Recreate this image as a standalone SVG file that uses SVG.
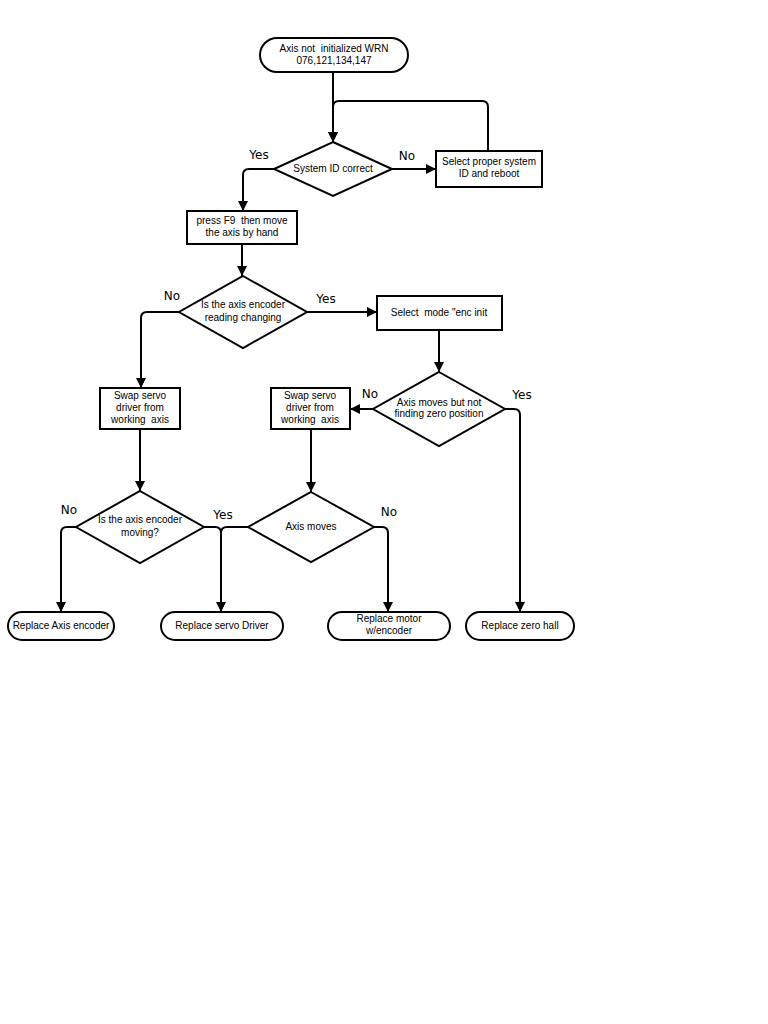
<svg xmlns="http://www.w3.org/2000/svg" width="768" height="1024" viewBox="0 0 768 1024">
<style>
.bg{fill:#fff}
.shape{fill:#fff;stroke:#000;stroke-width:2}
.t{font-family:"Liberation Sans",Arial,sans-serif;font-size:10px;fill:#000;text-anchor:middle}
.lbl{font-family:"DejaVu Sans","Liberation Sans",sans-serif;font-size:12px;fill:#000;text-anchor:middle}
.c{fill:none;stroke:#000;stroke-width:2}
</style>
<defs>
<marker id="ah" viewBox="0 0 10 10" refX="10" refY="5" markerWidth="5" markerHeight="5" orient="auto" markerUnits="strokeWidth">
<path d="M0,0 L10,5 L0,10 z" fill="#000"/>
</marker>
</defs>
<rect class="bg" width="768" height="1024"/>
<g id="connectors">
<path class="c" d="M333,72 V142" marker-end="url(#ah)"/>
<path class="c" d="M488,151 V107 Q488,101 482,101 H339 Q333,101 333,107 V142" marker-end="url(#ah)"/>
<path class="c" d="M392,169 H436" marker-end="url(#ah)"/>
<path class="c" d="M274,169 H249 Q243,169 243,175 V211" marker-end="url(#ah)"/>
<path class="c" d="M242,244 V276" marker-end="url(#ah)"/>
<path class="c" d="M179,312 H147 Q141,312 141,318 V388" marker-end="url(#ah)"/>
<path class="c" d="M307,312 H377" marker-end="url(#ah)"/>
<path class="c" d="M439,330 V372" marker-end="url(#ah)"/>
<path class="c" d="M373,409 H350" marker-end="url(#ah)"/>
<path class="c" d="M505,409 H514 Q520,409 520,415 V612" marker-end="url(#ah)"/>
<path class="c" d="M140,429 V491" marker-end="url(#ah)"/>
<path class="c" d="M311,429 V492" marker-end="url(#ah)"/>
<path class="c" d="M76,527 H67 Q61,527 61,533 V612" marker-end="url(#ah)"/>
<path class="c" d="M204,527 H215 Q221,527 221,533 V612" marker-end="url(#ah)"/>
<path class="c" d="M248,527 H227 Q221,527 221,533"/>
<path class="c" d="M374,527 H382 Q388,527 388,533 V612" marker-end="url(#ah)"/>
</g>
<g id="start">
<rect class="shape" x="260" y="38" width="148" height="34" rx="17"/>
<text class="t" x="334" y="52" xml:space="preserve">Axis not  initialized WRN</text>
<text class="t" x="334" y="64">076,121,134,147</text>
</g>
<g id="d_sysid">
<polygon class="shape" points="333,142 392,169 333,196 274,169"/>
<text class="t" x="333" y="172">System ID correct</text>
</g>
<g id="select_sys">
<rect class="shape" x="436" y="151" width="106" height="36"/>
<text class="t" x="489" y="165">Select proper system</text>
<text class="t" x="489" y="177">ID and reboot</text>
</g>
<g id="press_f9">
<rect class="shape" x="187" y="211" width="110" height="33"/>
<text class="t" x="242" y="224" xml:space="preserve">press F9  then move</text>
<text class="t" x="242" y="236">the axis by hand</text>
</g>
<g id="d_reading">
<polygon class="shape" points="243,276 307,312 243,348 179,312"/>
<text class="t" x="243" y="308">Is the axis encoder</text>
<text class="t" x="243" y="321">reading changing</text>
</g>
<g id="select_mode">
<rect class="shape" x="377" y="296" width="125" height="34"/>
<text class="t" x="439" y="316" xml:space="preserve">Select  mode "enc init</text>
</g>
<g id="d_zero">
<polygon class="shape" points="439,372 505,409 439,446 373,409"/>
<text class="t" x="439" y="406">Axis moves but not</text>
<text class="t" x="439" y="417">finding zero position</text>
</g>
<g id="swap_left">
<rect class="shape" x="100" y="388" width="80" height="41"/>
<text class="t" x="140" y="399">Swap servo</text>
<text class="t" x="140" y="411">driver from</text>
<text class="t" x="140" y="423" xml:space="preserve">working  axis</text>
</g>
<g id="swap_right">
<rect class="shape" x="271" y="388" width="79" height="41"/>
<text class="t" x="310" y="399">Swap servo</text>
<text class="t" x="310" y="411">driver from</text>
<text class="t" x="310" y="423" xml:space="preserve">working  axis</text>
</g>
<g id="d_moving">
<polygon class="shape" points="140,491 204,527 140,563 76,527"/>
<text class="t" x="140" y="523">Is the axis encoder</text>
<text class="t" x="140" y="536">moving?</text>
</g>
<g id="d_axismoves">
<polygon class="shape" points="311,492 374,527 311,562 248,527"/>
<text class="t" x="311" y="530">Axis moves</text>
</g>
<g id="replace_encoder">
<rect class="shape" x="8" y="612" width="106" height="28" rx="14"/>
<text class="t" x="61" y="629">Replace Axis encoder</text>
</g>
<g id="replace_driver">
<rect class="shape" x="161" y="612" width="122" height="28" rx="14"/>
<text class="t" x="222" y="629">Replace servo Driver</text>
</g>
<g id="replace_motor">
<rect class="shape" x="328" y="612" width="122" height="28" rx="14"/>
<text class="t" x="389" y="622">Replace motor</text>
<text class="t" x="389" y="634">w/encoder</text>
</g>
<g id="replace_hall">
<rect class="shape" x="466" y="612" width="108" height="28" rx="14"/>
<text class="t" x="520" y="629">Replace zero hall</text>
</g>
<g id="labels">
<text class="lbl" x="259" y="159">Yes</text>
<text class="lbl" x="407" y="160">No</text>
<text class="lbl" x="172" y="300">No</text>
<text class="lbl" x="326" y="303">Yes</text>
<text class="lbl" x="370" y="398">No</text>
<text class="lbl" x="522" y="399">Yes</text>
<text class="lbl" x="69" y="514">No</text>
<text class="lbl" x="223" y="519">Yes</text>
<text class="lbl" x="389" y="516">No</text>
</g>
</svg>
